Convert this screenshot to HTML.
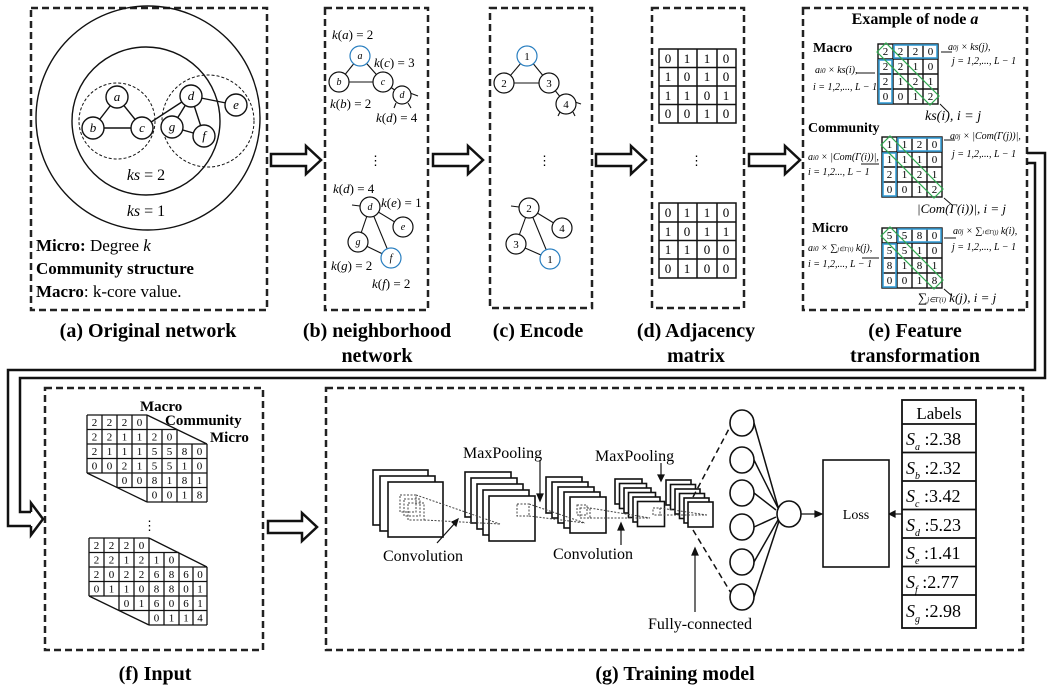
<!DOCTYPE html>
<html><head><meta charset="utf-8"><style>
html,body{margin:0;padding:0;background:#fff;}
svg{display:block;font-family:"Liberation Serif",serif;}
</style></head><body>
<svg width="1052" height="686" viewBox="0 0 1052 686" xmlns="http://www.w3.org/2000/svg">
<g fill="none" stroke="#222" stroke-width="2.5" stroke-dasharray="7,4">
<rect x="31" y="8" width="236" height="302"/>
<rect x="325" y="8" width="103" height="302"/>
<rect x="490" y="8" width="102" height="300"/>
<rect x="652" y="8" width="92" height="300"/>
<rect x="803" y="8" width="224" height="302"/>
<rect x="45" y="388" width="218" height="262"/>
<rect x="326" y="388" width="697" height="262"/>
</g>
<g fill="#fff" stroke="#111" stroke-width="2.5">
<polygon points="271,154 306,154 306,146 321,160 306,174 306,166 271,166"/>
<polygon points="433,154 468,154 468,146 483,160 468,174 468,166 433,166"/>
<polygon points="596,154 631,154 631,146 646,160 631,174 631,166 596,166"/>
<polygon points="749,154 785,154 785,146 800,160 785,174 785,166 749,166"/>
<polygon points="268,521 302,521 302,513 317,527 302,541 302,533 268,533"/>
</g>
<g fill="none" stroke="#111" stroke-width="2.5">
<polyline points="1027,153 1045,153 1045,378 20,378 20,512 31,512"/>
<polyline points="1027,163 1035,163 1035,370 8,370 8,526 31,526"/>
<polyline points="31,512 31,503 43,519 31,535 31,526"/>
</g>
<g fill="none" stroke="#111" stroke-width="1.4">
<circle cx="148" cy="118" r="112"/>
<circle cx="146" cy="121" r="74"/>
<circle cx="117" cy="121" r="38" stroke-dasharray="3,2" stroke-width="1"/>
<circle cx="208" cy="121" r="46" stroke-dasharray="3,2" stroke-width="1"/>
<line x1="117" y1="97" x2="93" y2="128"/><line x1="117" y1="97" x2="142" y2="128"/>
<line x1="93" y1="128" x2="142" y2="128"/><line x1="142" y1="128" x2="191" y2="96"/>
<line x1="191" y1="96" x2="172" y2="127"/><line x1="191" y1="96" x2="204" y2="136"/>
<line x1="172" y1="127" x2="204" y2="136"/><line x1="191" y1="96" x2="236" y2="105"/>
</g>
<g fill="#fff" stroke="#111" stroke-width="1.4">
<circle cx="117" cy="97" r="11"/><circle cx="93" cy="128" r="11"/><circle cx="142" cy="128" r="11"/>
<circle cx="191" cy="96" r="11"/><circle cx="236" cy="105" r="11"/><circle cx="172" cy="127" r="11"/><circle cx="204" cy="136" r="11"/>
</g>
<g font-style="italic" font-size="13" text-anchor="middle">
<text x="117" y="101">a</text><text x="93" y="132">b</text><text x="142" y="132">c</text><text x="191" y="100">d</text>
<text x="236" y="109">e</text><text x="172" y="131">g</text><text x="204" y="140">f</text>
</g>
<g font-size="16" text-anchor="middle"><text x="146" y="180"><tspan font-style="italic">ks</tspan> = 2</text><text x="146" y="216"><tspan font-style="italic">ks</tspan> = 1</text></g>
<g font-size="17">
<text x="36" y="251"><tspan font-weight="bold">Micro:</tspan> Degree <tspan font-style="italic">k</tspan></text>
<text x="36" y="274" font-weight="bold">Community structure</text>
<text x="36" y="297"><tspan font-weight="bold">Macro</tspan>:  k-core value.</text>
</g>
<g fill="none" stroke="#111" stroke-width="1.1">
<line x1="360" y1="56" x2="339" y2="82"/><line x1="360" y1="56" x2="383" y2="82"/><line x1="339" y1="82" x2="383" y2="82"/><line x1="383" y1="82" x2="402" y2="95"/>
<line x1="410" y1="93" x2="418" y2="96"/><line x1="396" y1="103" x2="394" y2="108"/><line x1="408" y1="103" x2="411" y2="108"/>
<line x1="370" y1="207" x2="403" y2="227"/><line x1="370" y1="207" x2="358" y2="242"/><line x1="370" y1="207" x2="391" y2="258"/><line x1="358" y1="242" x2="391" y2="258"/><line x1="360" y1="206" x2="352" y2="205"/>
</g>
<g fill="#fff" stroke="#111" stroke-width="1.2">
<circle cx="360" cy="56" r="10" stroke="#2a7fc0"/><circle cx="339" cy="82" r="10"/><circle cx="383" cy="82" r="10"/><circle cx="402" cy="95" r="9"/>
<circle cx="370" cy="207" r="10"/><circle cx="403" cy="227" r="10"/><circle cx="358" cy="242" r="10"/><circle cx="391" cy="258" r="10" stroke="#2a7fc0"/>
</g>
<g font-style="italic" font-size="10" text-anchor="middle">
<text x="360" y="59">a</text><text x="339" y="85">b</text><text x="383" y="85">c</text><text x="402" y="98">d</text>
<text x="370" y="210">d</text><text x="403" y="230">e</text><text x="358" y="245">g</text><text x="391" y="261">f</text>
</g>
<g font-size="13">
<text x="332" y="39"><tspan font-style="italic">k</tspan>(<tspan font-style="italic">a</tspan>) = 2</text>
<text x="374" y="67"><tspan font-style="italic">k</tspan>(<tspan font-style="italic">c</tspan>) = 3</text>
<text x="330" y="108"><tspan font-style="italic">k</tspan>(<tspan font-style="italic">b</tspan>) = 2</text>
<text x="376" y="122"><tspan font-style="italic">k</tspan>(<tspan font-style="italic">d</tspan>) = 4</text>
<text x="333" y="193"><tspan font-style="italic">k</tspan>(<tspan font-style="italic">d</tspan>) = 4</text>
<text x="381" y="207"><tspan font-style="italic">k</tspan>(<tspan font-style="italic">e</tspan>) = 1</text>
<text x="331" y="270"><tspan font-style="italic">k</tspan>(<tspan font-style="italic">g</tspan>) = 2</text>
<text x="372" y="288"><tspan font-style="italic">k</tspan>(<tspan font-style="italic">f</tspan>) = 2</text>
<text x="369" y="165">⋮</text><text x="538" y="165">⋮</text><text x="690" y="165">⋮</text><text x="143" y="530">⋮</text>
</g>
<g fill="none" stroke="#111" stroke-width="1.1">
<line x1="527" y1="56" x2="504" y2="83"/><line x1="527" y1="56" x2="549" y2="83"/><line x1="504" y1="83" x2="549" y2="83"/><line x1="549" y1="83" x2="566" y2="104"/>
<line x1="575" y1="102" x2="581" y2="104"/><line x1="560" y1="112" x2="558" y2="116"/><line x1="573" y1="112" x2="575" y2="116"/>
<line x1="529" y1="208" x2="562" y2="228"/><line x1="529" y1="208" x2="516" y2="244"/><line x1="529" y1="208" x2="550" y2="259"/><line x1="516" y1="244" x2="550" y2="259"/><line x1="519" y1="207" x2="511" y2="206"/>
</g>
<g fill="#fff" stroke="#111" stroke-width="1.2">
<circle cx="527" cy="56" r="10" stroke="#2a7fc0"/><circle cx="504" cy="83" r="10"/><circle cx="549" cy="83" r="10"/><circle cx="566" cy="104" r="10"/>
<circle cx="529" cy="208" r="10"/><circle cx="562" cy="228" r="10"/><circle cx="516" cy="244" r="10"/><circle cx="550" cy="259" r="10" stroke="#2a7fc0"/>
</g>
<g font-size="11" text-anchor="middle">
<text x="527" y="60">1</text><text x="504" y="87">2</text><text x="549" y="87">3</text><text x="566" y="108">4</text>
<text x="529" y="212">2</text><text x="562" y="232">4</text><text x="516" y="248">3</text><text x="550" y="263">1</text>
</g>
<g fill="none" stroke="#111" stroke-width="1.5">
<rect x="659" y="49" width="77" height="74"/><path d="M678 49V123M697 49V123M717 49V123M659 67.5H736M659 86H736M659 104.5H736"/>
<rect x="659" y="203" width="77" height="75"/><path d="M678 203V278M697 203V278M717 203V278M659 222H736M659 240.5H736M659 259H736"/>
</g>
<g font-size="13" text-anchor="middle">
<text x="668" y="63">0</text><text x="687" y="63">1</text><text x="707" y="63">1</text><text x="726" y="63">0</text>
<text x="668" y="81">1</text><text x="687" y="81">0</text><text x="707" y="81">1</text><text x="726" y="81">0</text>
<text x="668" y="100">1</text><text x="687" y="100">1</text><text x="707" y="100">0</text><text x="726" y="100">1</text>
<text x="668" y="118">0</text><text x="687" y="118">0</text><text x="707" y="118">1</text><text x="726" y="118">0</text>
<text x="668" y="217">0</text><text x="687" y="217">1</text><text x="707" y="217">1</text><text x="726" y="217">0</text>
<text x="668" y="236">1</text><text x="687" y="236">0</text><text x="707" y="236">1</text><text x="726" y="236">1</text>
<text x="668" y="254">1</text><text x="687" y="254">1</text><text x="707" y="254">0</text><text x="726" y="254">0</text>
<text x="668" y="273">0</text><text x="687" y="273">1</text><text x="707" y="273">0</text><text x="726" y="273">0</text>
</g>
<text x="915" y="24" font-size="16" font-weight="bold" text-anchor="middle">Example of node <tspan font-style="italic">a</tspan></text>
<text x="813" y="52" font-size="14" font-weight="bold">Macro</text>
<text x="808" y="132" font-size="14" font-weight="bold">Community</text>
<text x="812" y="232" font-size="14" font-weight="bold">Micro</text>
<g fill="none" stroke="#111" stroke-width="1.4">
<rect x="878" y="44" width="60" height="60"/><path d="M893 44V104M908 44V104M923 44V104M878 59H938M878 74H938M878 89H938"/>
<rect x="882" y="137" width="60" height="60"/><path d="M897 137V197M912 137V197M927 137V197M882 152H942M882 167H942M882 182H942"/>
<rect x="882" y="228" width="60" height="60"/><path d="M897 228V288M912 228V288M927 228V288M882 243H942M882 258H942M882 273H942"/>
</g>
<g fill="none" stroke="#3aa0d8" stroke-width="1.6">
<rect x="894" y="45" width="43" height="13"/><rect x="879" y="60" width="13" height="43"/>
<rect x="898" y="138" width="43" height="13"/><rect x="883" y="153" width="13" height="43"/>
<rect x="898" y="229" width="43" height="13"/><rect x="883" y="244" width="13" height="43"/>
</g>
<g fill="none" stroke="#2fa84f" stroke-width="1.2">
<polygon points="877,52 886,43 939,96 930,105"/>
<polygon points="881,145 890,136 943,189 934,198"/>
<polygon points="881,236 890,227 943,280 934,289"/>
</g>
<g font-size="11" text-anchor="middle">
<text x="885.5" y="55">2</text><text x="900.5" y="55">2</text><text x="915.5" y="55">2</text><text x="930.5" y="55">0</text>
<text x="885.5" y="70">2</text><text x="900.5" y="70">2</text><text x="915.5" y="70">1</text><text x="930.5" y="70">0</text>
<text x="885.5" y="85">2</text><text x="900.5" y="85">1</text><text x="915.5" y="85">2</text><text x="930.5" y="85">1</text>
<text x="885.5" y="100">0</text><text x="900.5" y="100">0</text><text x="915.5" y="100">1</text><text x="930.5" y="100">2</text>
<text x="889.5" y="148">1</text><text x="904.5" y="148">1</text><text x="919.5" y="148">2</text><text x="934.5" y="148">0</text>
<text x="889.5" y="163">1</text><text x="904.5" y="163">1</text><text x="919.5" y="163">1</text><text x="934.5" y="163">0</text>
<text x="889.5" y="178">2</text><text x="904.5" y="178">1</text><text x="919.5" y="178">2</text><text x="934.5" y="178">1</text>
<text x="889.5" y="193">0</text><text x="904.5" y="193">0</text><text x="919.5" y="193">1</text><text x="934.5" y="193">2</text>
<text x="889.5" y="239">5</text><text x="904.5" y="239">5</text><text x="919.5" y="239">8</text><text x="934.5" y="239">0</text>
<text x="889.5" y="254">5</text><text x="904.5" y="254">5</text><text x="919.5" y="254">1</text><text x="934.5" y="254">0</text>
<text x="889.5" y="269">8</text><text x="904.5" y="269">1</text><text x="919.5" y="269">8</text><text x="934.5" y="269">1</text>
<text x="889.5" y="284">0</text><text x="904.5" y="284">0</text><text x="919.5" y="284">1</text><text x="934.5" y="284">8</text>
</g>
<g stroke="#111" stroke-width="1">
<line x1="952" y1="52" x2="941" y2="52"/><line x1="856" y1="73" x2="875" y2="73"/><line x1="940" y1="104" x2="948" y2="112"/>
<line x1="955" y1="140" x2="944" y2="140"/><line x1="861" y1="164" x2="879" y2="164"/><line x1="944" y1="198" x2="952" y2="205"/>
<line x1="956" y1="238" x2="944" y2="238"/><line x1="862" y1="258" x2="879" y2="258"/><line x1="944" y1="289" x2="952" y2="296"/>
</g>
<g font-size="10" font-style="italic">
<text x="948" y="50">a<tspan font-size="7">0j</tspan> × ks(j),</text>
<text x="952" y="64">j = 1,2,..., L − 1</text>
<text x="815" y="73">a<tspan font-size="7">i0</tspan> × ks(i),</text>
<text x="813" y="90">i = 1,2,..., L − 1</text>
<text x="925" y="120" font-size="14">ks(i), i = j</text>
<text x="950" y="139">a<tspan font-size="7">0j</tspan> × |Com(Γ(j))|,</text>
<text x="952" y="157">j = 1,2,..., L − 1</text>
<text x="808" y="160">a<tspan font-size="7">i0</tspan> × |Com(Γ(i))|,</text>
<text x="808" y="175">i = 1,2..., L − 1</text>
<text x="917" y="213" font-size="13">|Com(Γ(i))|, i = j</text>
<text x="953" y="234">a<tspan font-size="7">0j</tspan> × ∑<tspan font-size="6">i∈Γ(j)</tspan> k(i),</text>
<text x="952" y="250">j = 1,2,..., L − 1</text>
<text x="808" y="251">a<tspan font-size="7">i0</tspan> × ∑<tspan font-size="6">j∈Γ(i)</tspan> k(j),</text>
<text x="808" y="267">i = 1,2,..., L − 1</text>
<text x="918" y="302" font-size="13">∑<tspan font-size="7">j∈Γ(i)</tspan> k(j), i = j</text>
</g>
<g font-size="20" font-weight="bold" text-anchor="middle">
<text x="148" y="337">(a) Original network</text>
<text x="377" y="337">(b) neighborhood</text><text x="377" y="362">network</text>
<text x="538" y="337">(c) Encode</text>
<text x="696" y="337">(d) Adjacency</text><text x="696" y="362">matrix</text>
<text x="915" y="337">(e) Feature</text><text x="915" y="362">transformation</text>
<text x="155" y="680">(f) Input</text>
<text x="675" y="680">(g) Training model</text>
</g>
<g font-size="15" font-weight="bold">
<text x="140" y="411">Macro</text><text x="165" y="425">Community</text><text x="210" y="442">Micro</text>
</g>
<g stroke="#111" stroke-width="1.3" fill="none">
<line x1="147" y1="415" x2="207" y2="444"/><line x1="87" y1="473" x2="147" y2="502"/>
<line x1="149" y1="538" x2="207" y2="567"/><line x1="89" y1="596" x2="149" y2="625"/>
<path d="M87 415H147M87 429.5H177M87 444H207M87 458.5H207M87 473H207M117 487.5H207M147 502H207
M87 415V473M102 415V473M117 415V487.5M132 415V487.5M147 415V502M162 429.5V502M177 429.5V502M192 444V502M207 444V502"/>
<path d="M89 538H149M89 552.5H179M89 567H207M89 581.5H207M89 596H207M119 610.5H207M149 625H207
M89 538V596M104 538V596M119 538V610.5M134 538V610.5M149 538V625M164 552.5V625M179 552.5V625M193 567V625M207 567V625"/>
</g>
<g font-size="11" text-anchor="middle">
<text x="94.5" y="426">2</text><text x="109.5" y="426">2</text><text x="124.5" y="426">2</text><text x="139.5" y="426">0</text>
<text x="94.5" y="440.5">2</text><text x="109.5" y="440.5">2</text><text x="124.5" y="440.5">1</text><text x="139.5" y="440.5">1</text><text x="154.5" y="440.5">2</text><text x="169.5" y="440.5">0</text>
<text x="94.5" y="455">2</text><text x="109.5" y="455">1</text><text x="124.5" y="455">1</text><text x="139.5" y="455">1</text><text x="154.5" y="455">5</text><text x="169.5" y="455">5</text><text x="184.5" y="455">8</text><text x="199.5" y="455">0</text>
<text x="94.5" y="469.5">0</text><text x="109.5" y="469.5">0</text><text x="124.5" y="469.5">2</text><text x="139.5" y="469.5">1</text><text x="154.5" y="469.5">5</text><text x="169.5" y="469.5">5</text><text x="184.5" y="469.5">1</text><text x="199.5" y="469.5">0</text>
<text x="124.5" y="484">0</text><text x="139.5" y="484">0</text><text x="154.5" y="484">8</text><text x="169.5" y="484">1</text><text x="184.5" y="484">8</text><text x="199.5" y="484">1</text>
<text x="154.5" y="498.5">0</text><text x="169.5" y="498.5">0</text><text x="184.5" y="498.5">1</text><text x="199.5" y="498.5">8</text>
<text x="96.5" y="549">2</text><text x="111.5" y="549">2</text><text x="126.5" y="549">2</text><text x="141.5" y="549">0</text>
<text x="96.5" y="563.5">2</text><text x="111.5" y="563.5">2</text><text x="126.5" y="563.5">1</text><text x="141.5" y="563.5">2</text><text x="156.5" y="563.5">1</text><text x="171.5" y="563.5">0</text>
<text x="96.5" y="578">2</text><text x="111.5" y="578">0</text><text x="126.5" y="578">2</text><text x="141.5" y="578">2</text><text x="156.5" y="578">6</text><text x="171.5" y="578">8</text><text x="186" y="578">6</text><text x="200" y="578">0</text>
<text x="96.5" y="592.5">0</text><text x="111.5" y="592.5">1</text><text x="126.5" y="592.5">1</text><text x="141.5" y="592.5">0</text><text x="156.5" y="592.5">8</text><text x="171.5" y="592.5">8</text><text x="186" y="592.5">0</text><text x="200" y="592.5">1</text>
<text x="126.5" y="607">0</text><text x="141.5" y="607">1</text><text x="156.5" y="607">6</text><text x="171.5" y="607">0</text><text x="186" y="607">6</text><text x="200" y="607">1</text>
<text x="156.5" y="621.5">0</text><text x="171.5" y="621.5">1</text><text x="186" y="621.5">1</text><text x="200" y="621.5">4</text>
</g>
<g fill="#fff" stroke="#111" stroke-width="1.6">
<rect x="373" y="470" width="55" height="55"/><rect x="380" y="476" width="55" height="55"/><rect x="388" y="482" width="55" height="55"/>
<rect x="465" y="472" width="46" height="45"/><rect x="471" y="478" width="46" height="45"/><rect x="477" y="484" width="46" height="45"/><rect x="483" y="490" width="46" height="45"/><rect x="489" y="496" width="46" height="45"/>
<rect x="546" y="477" width="36" height="36"/><rect x="552" y="482" width="36" height="36"/><rect x="558" y="487" width="36" height="36"/><rect x="564" y="492" width="36" height="36"/><rect x="570" y="497" width="36" height="36"/>
<rect x="615" y="479" width="27" height="25"/><rect x="619.5" y="483.5" width="27" height="25"/><rect x="624" y="488" width="27" height="25"/><rect x="628.5" y="492.5" width="27" height="25"/><rect x="633" y="497" width="27" height="25"/><rect x="637.5" y="501.5" width="27" height="25"/>
<rect x="666" y="480" width="25" height="25"/><rect x="670.5" y="484.5" width="25" height="25"/><rect x="675" y="489" width="25" height="25"/><rect x="679.5" y="493.5" width="25" height="25"/><rect x="684" y="498" width="25" height="25"/><rect x="688" y="502" width="25" height="25"/>
</g>
<g fill="none" stroke="#444" stroke-width="1" stroke-dasharray="2,1.5">
<rect x="400" y="495" width="16" height="17"/><rect x="404" y="499" width="16" height="17"/><rect x="408" y="503" width="16" height="17"/>
<line x1="416" y1="495" x2="500" y2="524"/><line x1="424" y1="520" x2="500" y2="524"/>
<rect x="517" y="504" width="12" height="12"/><line x1="529" y1="504" x2="585" y2="523"/><line x1="529" y1="516" x2="585" y2="523"/>
<rect x="577" y="505" width="10" height="10"/><rect x="580" y="508" width="10" height="10"/>
<line x1="590" y1="508" x2="650" y2="518"/><line x1="590" y1="518" x2="650" y2="518"/>
<rect x="653" y="508" width="7" height="7"/><line x1="660" y1="508" x2="707" y2="515"/><line x1="660" y1="515" x2="707" y2="515"/>
</g>
<g stroke="#111" stroke-width="1.2" fill="#111">
<line x1="437" y1="543" x2="455" y2="523"/><polygon points="458,519 452,522 456,526"/>
<line x1="540" y1="460" x2="540" y2="498"/><polygon points="537,494 543,494 540,501"/>
<line x1="621" y1="545" x2="621" y2="527"/><polygon points="618,530 624,530 621,523"/>
<line x1="661" y1="463" x2="661" y2="478"/><polygon points="658,475 664,475 661,481"/>
<line x1="695" y1="612" x2="695" y2="551"/><polygon points="692,555 698,555 695,548"/>
<line x1="801" y1="514" x2="818" y2="514"/><polygon points="815,511 815,517 822,514"/>
<line x1="902" y1="514" x2="893" y2="514"/><polygon points="895,511 895,517 889,514"/>
</g>
<g stroke="#111" stroke-width="1.5" fill="none">
<line x1="693" y1="497" x2="731" y2="425" stroke-dasharray="6,4"/><line x1="693" y1="530" x2="731" y2="593" stroke-dasharray="6,4"/>
<line x1="754" y1="423" x2="778" y2="507"/><line x1="754" y1="460" x2="778" y2="508"/><line x1="754" y1="493" x2="776" y2="510"/>
<line x1="754" y1="527" x2="776" y2="517"/><line x1="754" y1="562" x2="778" y2="520"/><line x1="754" y1="597" x2="779" y2="521"/>
</g>
<g fill="#fff" stroke="#111" stroke-width="1.6">
<ellipse cx="742" cy="423" rx="12" ry="13"/><ellipse cx="742" cy="460" rx="12" ry="13"/><ellipse cx="742" cy="493" rx="12" ry="13"/>
<ellipse cx="742" cy="527" rx="12" ry="13"/><ellipse cx="742" cy="562" rx="12" ry="13"/><ellipse cx="742" cy="597" rx="12" ry="13"/>
<ellipse cx="789" cy="514" rx="12" ry="13"/>
<rect x="823" y="460" width="66" height="107"/>
</g>
<text x="856" y="519" font-size="14" text-anchor="middle">Loss</text>
<g font-size="16">
<text x="383" y="561">Convolution</text><text x="553" y="559">Convolution</text>
<text x="463" y="458">MaxPooling</text><text x="595" y="461">MaxPooling</text>
<text x="648" y="629">Fully-connected</text>
</g>
<g fill="none" stroke="#111" stroke-width="1.8">
<rect x="902" y="400" width="74" height="228"/>
<path d="M902 424H976M902 452.5H976M902 481H976M902 509.5H976M902 538H976M902 566.5H976M902 595H976"/>
</g>
<g font-size="18">
<text x="939" y="419" text-anchor="middle" font-size="17">Labels</text>
<text x="906" y="445"><tspan font-style="italic">S</tspan><tspan font-size="10" font-style="italic" dy="5">a</tspan><tspan dy="-5"> :2.38</tspan></text>
<text x="906" y="474"><tspan font-style="italic">S</tspan><tspan font-size="10" font-style="italic" dy="5">b</tspan><tspan dy="-5"> :2.32</tspan></text>
<text x="906" y="502"><tspan font-style="italic">S</tspan><tspan font-size="10" font-style="italic" dy="5">c</tspan><tspan dy="-5"> :3.42</tspan></text>
<text x="906" y="531"><tspan font-style="italic">S</tspan><tspan font-size="10" font-style="italic" dy="5">d</tspan><tspan dy="-5"> :5.23</tspan></text>
<text x="906" y="559"><tspan font-style="italic">S</tspan><tspan font-size="10" font-style="italic" dy="5">e</tspan><tspan dy="-5"> :1.41</tspan></text>
<text x="906" y="588"><tspan font-style="italic">S</tspan><tspan font-size="10" font-style="italic" dy="5">f</tspan><tspan dy="-5"> :2.77</tspan></text>
<text x="906" y="617"><tspan font-style="italic">S</tspan><tspan font-size="10" font-style="italic" dy="5">g</tspan><tspan dy="-5"> :2.98</tspan></text>
</g>
</svg>
</body></html>
